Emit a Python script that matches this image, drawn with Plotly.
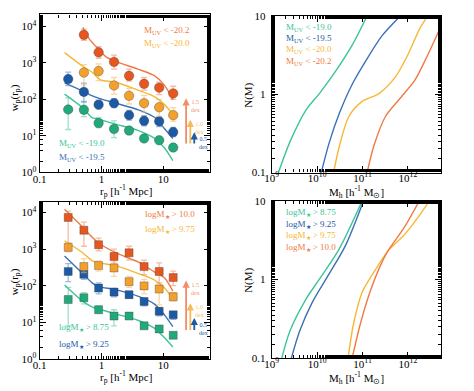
import plotly.graph_objects as go

# ---------------- data ----------------
rp_pts = [0.29, 0.52, 0.9, 1.6, 2.8, 4.9, 8.6, 14.5]

# top-left: M_UV thresholds (circles)
muv_labels = ["M<sub>UV</sub> < -19.0", "M<sub>UV</sub> < -19.5",
              "M<sub>UV</sub> < -20.0", "M<sub>UV</sub> < -20.2"]
tl_green_y = [53, 52, 22.5, 15.5, 14, 8.5, 7.6, 4.8]
tl_green_hi = [110, 88, 32, 26, 17, 10.5, 9.5, 5.8]
tl_green_lo = [15, 34, 17, 9, 11, 7, 6, 4]
tl_blue_y = [363, 161, 72, 79, 37, 26, 25, 12.7]
tl_blue_hi = [560, 280, 95, 105, 50, 36, 33, 17]
tl_blue_lo = [240, 85, 55, 60, 27, 19, 18, 9.5]
tl_orange_y = [545, 600, 242, 126, 79, 61, 37]
tl_orange_hi = [900, 950, 400, 200, 130, 100, 60]
tl_orange_lo = [250, 330, 140, 75, 45, 35, 25]
tl_red_y = [5900, 1960, 1070, 446, 268, 210, 146]
tl_red_hi = [8500, 2800, 1650, 680, 400, 300, 230]
tl_red_lo = [4200, 1350, 680, 320, 180, 135, 100]

line_r = [0.253, 0.497, 0.716, 0.915, 1.03, 1.69, 3.97, 7.3, 10.6, 14.3]
tl_green_line = [140, 59, 31, 29, 27, 21, 14, 8.5, 4.6, 2.1]
tl_blue_line = [285, 170, 125, 107, 100, 79, 52, 32, 15.5, 8.5]
tl_orange_line = [1920, 815, 550, 363, 330, 296, 178, 118, 71, 39]
tl_red_line_r = [0.5, 0.634, 0.915, 1.17, 1.69, 3.97, 7.3, 10.6, 14.3]
tl_red_line = [9500, 4600, 2300, 1500, 1100, 670, 445, 240, 97]

# bottom-left: stellar mass thresholds (squares)
ms_labels = ["logM<sub>★</sub> > 8.75", "logM<sub>★</sub> > 9.25",
             "logM<sub>★</sub> > 9.75", "logM<sub>★</sub> > 10.0"]
bl_green_y = [42, 47, 22, 14.8, 14.8, 8, 6.6, 4.4]
bl_green_hi = [90, 65, 28, 22, 17, 9.5, 8, 5]
bl_green_lo = [8, 32, 18, 8, 12, 7, 5.5, 3.8]
bl_blue_y = [246, 205, 86, 67, 57, 37, 20, 16]
bl_blue_hi = [400, 280, 120, 85, 70, 45, 25, 19]
bl_blue_lo = [130, 150, 60, 50, 45, 28, 15, 12]
bl_orange_y = [1120, 333, 355, 307, 129, 99, 81, 50]
bl_orange_hi = [1500, 550, 480, 450, 180, 150, 110, 65]
bl_orange_lo = [850, 230, 250, 180, 90, 60, 30, 38]
bl_red_y = [7400, 3300, 1320, 630, 795, 333, 245, 167]
bl_red_hi = [11000, 5500, 2000, 1000, 1200, 500, 420, 250]
bl_red_lo = [900, 1200, 900, 400, 500, 200, 120, 100]

bl_line_r = [0.253, 0.497, 0.716, 0.915, 1.69, 3.97, 7.3, 10.6, 14.3]
bl_green_line = [105, 38, 26, 23, 17, 11.2, 6.8, 3.7, 2.1]
bl_blue_line = [650, 215, 118, 95, 78, 51, 31, 15.5, 7.6]
bl_orange_line = [1700, 800, 480, 420, 355, 215, 141, 85, 43]
bl_red_line = [12300, 4000, 2100, 1450, 800, 440, 235, 160, 71]

# top-right: HOD N(M) for M_UV samples
tr_green_m = [1.4e9, 2.5e9, 5.8e9, 1.12e10, 2.6e10, 6.0e10, 1.26e11]
tr_green_n = [0.1, 0.245, 0.64, 1.02, 2.0, 4.3, 10]
tr_blue_m = [1.23e10, 1.86e10, 3.1e10, 6.0e10, 1.17e11, 2.7e11, 6.8e11]
tr_blue_n = [0.1, 0.245, 0.575, 1.36, 2.65, 5.6, 10]
tr_orange_m = [2.3e10, 3.1e10, 5.0e10, 9.8e10, 2.3e11, 5.2e11, 1.0e12, 1.8e12, 2.75e12]
tr_orange_n = [0.1, 0.22, 0.52, 0.81, 1.02, 1.64, 3.2, 6.8, 10]
tr_red_m = [1.26e11, 1.78e11, 3.2e11, 7.2e11, 1.41e12, 2.75e12, 5.4e12]
tr_red_n = [0.1, 0.22, 0.52, 0.93, 1.5, 3.2, 7.5]

# bottom-right: HOD N(M) for stellar-mass samples
br_green_m = [1.66e9, 2.5e9, 5.8e9, 1.12e10, 3.0e10, 9.8e10]
br_green_n = [0.1, 0.22, 0.575, 1.01, 2.4, 10]
br_blue_m = [2.7e9, 4.1e9, 7.9e9, 1.82e10, 4.2e10, 1.05e11]
br_blue_n = [0.1, 0.22, 0.52, 1.17, 2.7, 10]
br_orange_m = [4.8e10, 6.3e10, 9.8e10, 1.86e11, 3.6e11, 8.3e11, 1.78e12, 2.95e12]
br_orange_n = [0.1, 0.27, 0.69, 1.29, 2.3, 3.7, 6.5, 10]
br_red_m = [5.9e10, 8.9e10, 1.45e11, 2.4e11, 3.6e11, 8.3e11, 1.78e12]
br_red_n = [0.1, 0.27, 0.69, 1.45, 2.3, 4.6, 10]

# tick labels
r_ticks = [0.1, 1, 10]
r_text = ["0.1", "1", "10"]
w_ticks = [1, 10, 100, 1000, 10000]
w_text = ["10<sup>0</sup>", "10<sup>1</sup>", "10<sup>2</sup>", "10<sup>3</sup>", "10<sup>4</sup>"]
m_ticks = [1e9, 1e10, 1e11, 1e12]
m_text = ["10<sup>9</sup>", "10<sup>10</sup>", "10<sup>11</sup>", "10<sup>12</sup>"]
n_ticks = [0.1, 1, 10]
n_text = ["0.1", "1", "10"]

# colours
GREEN, BLUE, ORANGE, RED = "#22a97a", "#1c5aa6", "#f3a12c", "#e8561f"
GREEN_L, BLUE_L, ORANGE_L, RED_L = "#3cc49a", "#3a72b8", "#f7b733", "#f07a45"
GREEN_E, BLUE_E, ORANGE_E, RED_E = ("rgba(80,200,160,0.55)", "rgba(80,130,200,0.55)",
                                    "rgba(245,180,90,0.55)", "rgba(240,130,90,0.55)")

fig = go.Figure()


def points(x, y, hi, lo, fill, ecol, symbol, xa, ya, size):
    fig.add_trace(go.Scatter(
        x=x, y=y, mode="markers", xaxis=xa, yaxis=ya, showlegend=False,
        marker=dict(symbol=symbol, size=size, color=fill,
                    line=dict(color="rgba(60,60,60,0.6)", width=0.6)),
        error_y=dict(type="data", symmetric=False,
                     array=[h - v for h, v in zip(hi, y)],
                     arrayminus=[v - l for v, l in zip(y, lo)],
                     color=ecol, thickness=1.3, width=3)))


def curve(x, y, col, xa, ya):
    fig.add_trace(go.Scatter(x=x, y=y, mode="lines", xaxis=xa, yaxis=ya,
                             showlegend=False,
                             line=dict(color=col, width=1.4, shape="spline", smoothing=0.8)))


# top-left
curve(line_r, tl_green_line, GREEN_L, "x", "y")
curve(line_r, tl_blue_line, BLUE_L, "x", "y")
curve(line_r, tl_orange_line, ORANGE_L, "x", "y")
curve(tl_red_line_r, tl_red_line, RED_L, "x", "y")
points(rp_pts, tl_green_y, tl_green_hi, tl_green_lo, GREEN, GREEN_E, "circle", "x", "y", 9.5)
points(rp_pts, tl_blue_y, tl_blue_hi, tl_blue_lo, BLUE, BLUE_E, "circle", "x", "y", 9.5)
points(rp_pts[1:], tl_orange_y, tl_orange_hi, tl_orange_lo, ORANGE, ORANGE_E, "circle", "x", "y", 9.5)
points(rp_pts[1:], tl_red_y, tl_red_hi, tl_red_lo, RED, RED_E, "circle", "x", "y", 9.5)

# bottom-left
curve(bl_line_r, bl_green_line, GREEN_L, "x3", "y3")
curve(bl_line_r, bl_blue_line, BLUE_L, "x3", "y3")
curve(bl_line_r, bl_orange_line, ORANGE_L, "x3", "y3")
curve(bl_line_r, bl_red_line, RED_L, "x3", "y3")
points(rp_pts, bl_green_y, bl_green_hi, bl_green_lo, GREEN, GREEN_E, "square", "x3", "y3", 8)
points(rp_pts, bl_blue_y, bl_blue_hi, bl_blue_lo, BLUE, BLUE_E, "square", "x3", "y3", 8)
points(rp_pts, bl_orange_y, bl_orange_hi, bl_orange_lo, ORANGE, ORANGE_E, "square", "x3", "y3", 8)
points(rp_pts, bl_red_y, bl_red_hi, bl_red_lo, RED, RED_E, "square", "x3", "y3", 8)

# top-right
curve(tr_green_m, tr_green_n, GREEN_L, "x2", "y2")
curve(tr_blue_m, tr_blue_n, BLUE_L, "x2", "y2")
curve(tr_orange_m, tr_orange_n, ORANGE_L, "x2", "y2")
curve(tr_red_m, tr_red_n, RED_L, "x2", "y2")

# bottom-right
curve(br_green_m, br_green_n, GREEN_L, "x4", "y4")
curve(br_blue_m, br_blue_n, BLUE_L, "x4", "y4")
curve(br_orange_m, br_orange_n, ORANGE_L, "x4", "y4")
curve(br_red_m, br_red_n, RED_L, "x4", "y4")

FONT = "Liberation Serif"
PAGE_W, PAGE_H = 474, 391
OFF = 8  # default body margin of the html page
W, H = PAGE_W - OFF, PAGE_H - OFF


def fx(x):
    return (x - OFF) / W


def fy(y):
    return (PAGE_H - y) / H


def px_x(a, b):
    return [fx(a), fx(b)]


def px_y(top, bottom):
    return [fy(bottom), fy(top)]


def ax(rng, dom, anchor, tickvals, ticktext, standoff=0):
    return dict(type="log", range=rng, domain=dom, anchor=anchor,
                showline=True, linecolor="black", linewidth=1.3, mirror="ticks",
                ticks="inside", ticklen=6, tickwidth=1, tickcolor="black",
                tickvals=tickvals, ticktext=ticktext, showgrid=False, zeroline=False,
                ticklabelstandoff=standoff,
                tickfont=dict(family=FONT, size=11, color="black"),
                minor=dict(ticks="inside", ticklen=3, tickcolor="black", showgrid=False))


fig.update_layout(
    width=W, height=H, margin=dict(l=0, r=0, t=0, b=0),
    paper_bgcolor="white", plot_bgcolor="white",
    xaxis=ax([-1, 1.757], px_x(33, 206), "y", r_ticks, r_text, -4),
    yaxis=ax([0, 4.33], px_y(8.5, 171.5), "x", w_ticks, w_text),
    xaxis2=ax([9, 12.74], px_x(268.7, 441), "y2", m_ticks, m_text, -5),
    yaxis2=ax([-1, 1], px_y(10, 171.7), "x2", n_ticks, n_text, 3),
    xaxis3=ax([-1, 1.757], px_x(33, 206), "y3", r_ticks, r_text, -4),
    yaxis3=ax([0, 4.3], px_y(201.7, 364), "x3", w_ticks, w_text),
    xaxis4=ax([9, 12.74], px_x(268.7, 441), "y4", m_ticks, m_text, -5),
    yaxis4=ax([-1, 1], px_y(201, 363.3), "x4", n_ticks, n_text, 3),
)

ann = []


def label(text, x, y, col, size=9, anchor="left", angle=0):
    ann.append(dict(text=text, x=fx(x), y=fy(y), xref="paper", yref="paper",
                    xanchor=anchor, yanchor="middle", showarrow=False, textangle=angle,
                    font=dict(family=FONT, size=size, color=col)))


# axis titles
xt_r = "r<sub>p</sub> [h<sup>-1</sup> Mpc]"
yt_w = "w<sub>p</sub>(r<sub>p</sub>)"
xt_m = "M<sub>h</sub> [h<sup>-1</sup> M<sub>⊙</sub>]"
yt_n = "N(M)"
label(xt_r, 121, 191, "black", 11, "center")
label(xt_r, 121, 383, "black", 11, "center")
label(xt_m, 355, 192, "black", 11, "center")
label(xt_m, 355, 384, "black", 11, "center")
label(yt_w, 8, 95, "black", 11, "center", -90)
label(yt_w, 8, 285, "black", 11, "center", -90)
label(yt_n, 245, 92, "black", 11, "center", -90)
label(yt_n, 245, 283, "black", 11, "center", -90)

# top-left labels
label(muv_labels[3], 137, 25, RED_L)
label(muv_labels[2], 137, 38, ORANGE_L)
label(muv_labels[0], 51, 142, GREEN_L)
label(muv_labels[1], 51, 156, BLUE_L)
# top-right labels
for i, (t, c) in enumerate(zip(muv_labels, [GREEN_L, BLUE, ORANGE_L, RED_L])):
    label(t, 281, 21.5 + 11.8 * i, c)
# bottom-left labels
label(ms_labels[3], 138, 215, RED_L)
label(ms_labels[2], 138, 230, ORANGE_L)
label(ms_labels[0], 51, 332, GREEN_L)
label(ms_labels[1], 51, 349, BLUE)
# bottom-right labels
for i, (t, c) in enumerate(zip(ms_labels, [GREEN_L, BLUE, ORANGE_L, RED_L])):
    label(t, 281, 213 + 12 * i, c)

# dex arrows (coordinates in log10 units, as plotly annotations on log axes need)
arrow_x = [1.37, 1.438, 1.502]
arrow_base = 0.75
arrow_top_tl = [2.03, 1.44, 1.10]
arrow_top_bl = [2.14, 1.52, 1.12]
arrow_text = ["1.5<br>dex", "1.0<br>dex", "0.5<br>dex"]
arrow_label_drop = [0.22, 0.22, 0.3]
arrow_cols = ["rgba(240,120,80,0.85)", "rgba(245,175,60,0.85)", BLUE]
for xa, ya, tops in (("x", "y", arrow_top_tl), ("x3", "y3", arrow_top_bl)):
    for xv, top, txt, c, drop in zip(arrow_x, tops, arrow_text, arrow_cols, arrow_label_drop):
        ann.append(dict(x=xv, y=top, ax=xv, ay=arrow_base, xref=xa, yref=ya,
                        axref=xa, ayref=ya, showarrow=True, arrowhead=2,
                        arrowsize=0.8, arrowwidth=1.8, arrowcolor=c, text=""))
        ann.append(dict(x=xv + 0.05, y=top - drop, xref=xa, yref=ya, text=txt,
                        showarrow=False, xanchor="left", yanchor="middle",
                        font=dict(family=FONT, size=6, color=c)))

fig.update_layout(annotations=ann)
fig.write_html("out.html")
